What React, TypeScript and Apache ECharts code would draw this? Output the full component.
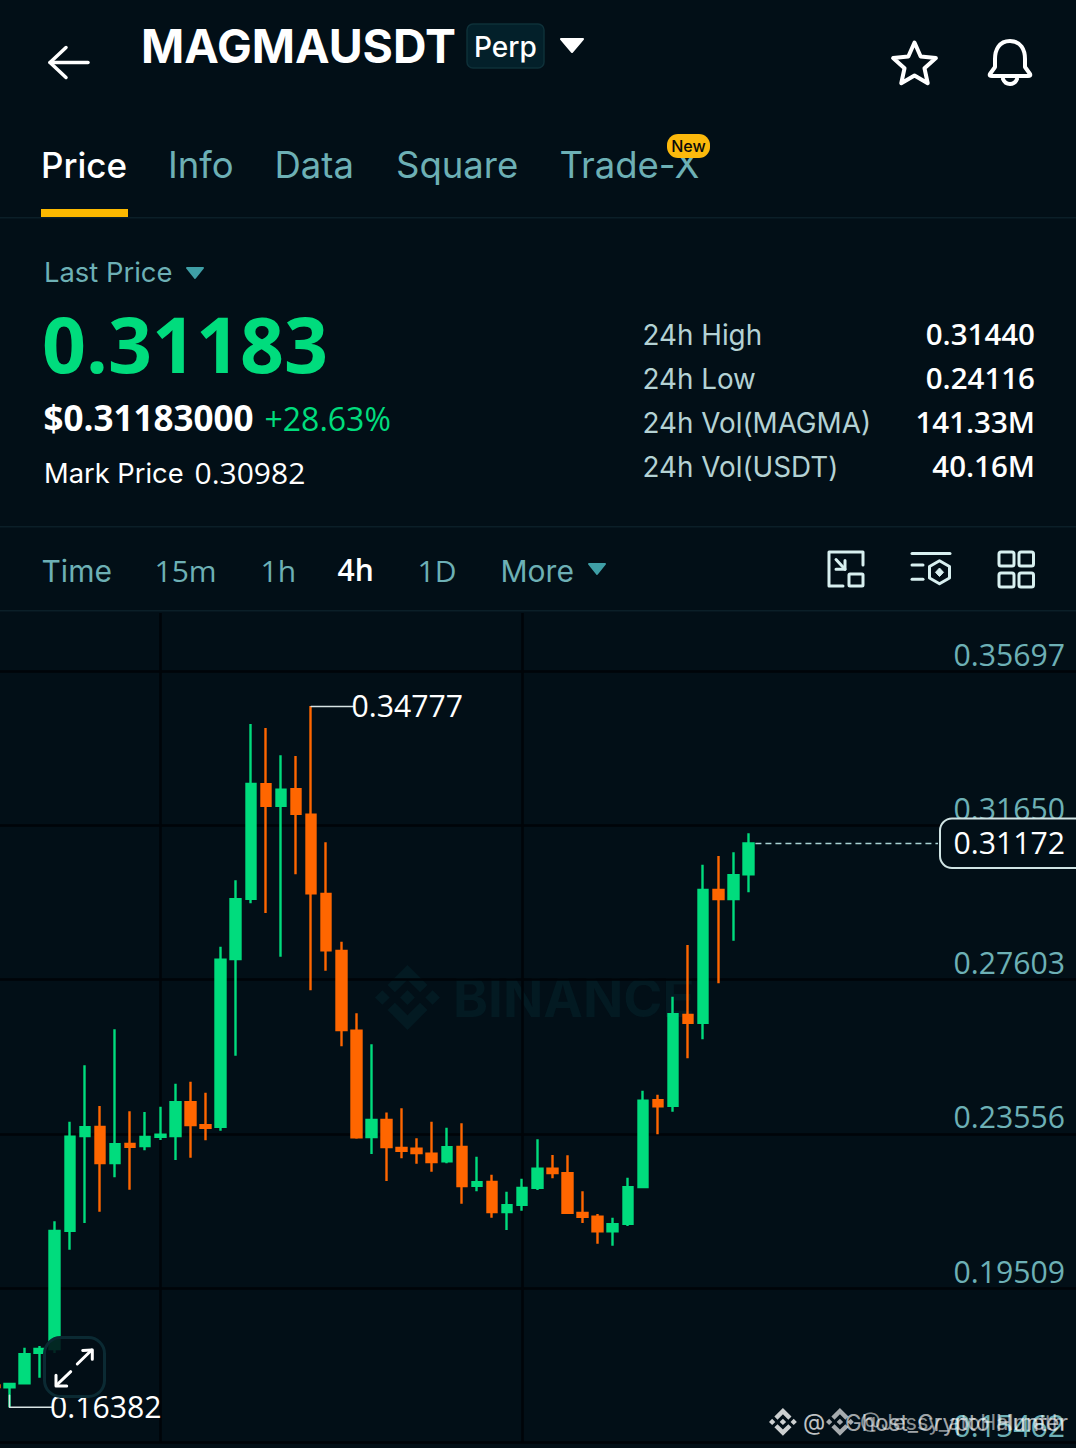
import React, { useEffect, useRef } from "react";
import * as echarts from "echarts";

const opens = [0.16951,0.16904,0.17009,0.17812,0.17909,0.21013,0.23497,0.23733,0.22789,0.23287,0.23235,0.23479,0.23497,0.24381,0.23778,0.23741,0.28141,0.29723,0.32724,0.32163,0.32593,0.31927,0.29846,0.28351,0.26260,0.23471,0.23917,0.23182,0.23164,0.23033,0.22833,0.23209,0.22193,0.22290,0.21503,0.21695,0.22141,0.22639,0.22519,0.21477,0.21380,0.20997,0.21196,0.22159,0.24434,0.24292,0.26672,0.26470,0.29951,0.29715,0.30363];
const closes = [0.16912,0.16991,0.17770,0.17909,0.21005,0.23479,0.23725,0.22789,0.23279,0.23216,0.23471,0.23531,0.24381,0.23786,0.23715,0.28123,0.29707,0.32732,0.32163,0.32583,0.31953,0.29865,0.28369,0.26278,0.23463,0.23917,0.23209,0.23111,0.23051,0.22815,0.23201,0.22185,0.22282,0.21503,0.21679,0.22133,0.22639,0.22527,0.21485,0.21380,0.20997,0.21181,0.22151,0.24423,0.24276,0.26690,0.26470,0.29951,0.29715,0.30337,0.31172];
const lows = [0.16912,0.16382,0.17009,0.17156,0.17804,0.20514,0.21215,0.21511,0.22414,0.22088,0.23122,0.23392,0.22868,0.22928,0.23384,0.23636,0.25604,0.29602,0.29348,0.28201,0.30363,0.27320,0.27834,0.25851,0.23426,0.23025,0.22317,0.22912,0.22771,0.22561,0.22781,0.21721,0.22046,0.21354,0.21031,0.21537,0.22081,0.22387,0.21485,0.21215,0.20672,0.20619,0.21136,0.22125,0.23542,0.24135,0.25536,0.26034,0.27503,0.28621,0.29891];
const highs = [0.16951,0.16991,0.17943,0.17988,0.21259,0.23872,0.25352,0.24284,0.26297,0.24145,0.24127,0.24266,0.24869,0.24922,0.24633,0.28464,0.30206,0.34306,0.34202,0.33485,0.33467,0.34777,0.31203,0.28595,0.26716,0.25903,0.24114,0.24224,0.23437,0.23872,0.23715,0.23830,0.22954,0.22482,0.22036,0.22377,0.23411,0.22999,0.22991,0.22046,0.21451,0.21354,0.22403,0.24686,0.24581,0.27152,0.28508,0.30615,0.30843,0.30940,0.31439];
const slotCount = 73;
const priceTicks = [0.15462, 0.19509, 0.23556, 0.27603, 0.3165, 0.35697];
const gridColumns = [11, 35];
const highIndex = 21, highValue = 0.34777;
const lowIndex = 1, lowValue = 0.16382;
const lastIndex = 50, lastValue = 0.31172;
const tabs = [["Info", 168], ["Data", 274.5], ["Square", 396], ["Trade-X", 559.5]] as const;
const wordPeriods = [["Time", 41.5], ["More", 500.5]] as const;
const numberPeriods = [["15m", 154.5], ["1h", 260.5], ["1D", 417.5]] as const;
const statLabels = ["24h High", "24h Low", "24h Vol(MAGMA)", "24h Vol(USDT)"];
const statValues = ["0.31440", "0.24116", "141.33M", "40.16M"];

const BG = "#020f17", GREEN = "#00dc7d", ORANGE = "#ff6600", TEAL = "#6db0b5", WHITE = "#ffffff", FONT = "Inter", NUM = "Open Sans";
const ICON = "#d8f0f0", LINE = "#0b1f28", GRIDLINE = "#000409";

echarts.graphic.registerShape("binanceLogo", echarts.graphic.extendPath(
  "M38.73 53.2l24.59-24.58 24.6 24.6 14.3-14.31L63.32 0l-38.9 38.9zM0 63.31l14.3-14.31 14.31 14.31-14.31 14.3zM38.73 73.41l24.59 24.59 24.6-24.6 14.31 14.29-38.9 38.91-38.91-38.88zM98 63.31l14.3-14.31 14.31 14.3-14.31 14.32zM77.83 63.3L63.32 48.78 52.59 59.51l-1.24 1.23-2.54 2.54 14.51 14.5 14.51-14.47z", {}) as any);
echarts.graphic.registerShape("bellIcon", echarts.graphic.extendPath(
  "M1010 41C999 41 995 50 995 59V67L990 74Q989 76 992 76H1028Q1031 76 1030 74L1025 67V59C1025 50 1021 41 1010 41ZM1003 79Q1005 84 1010 84Q1015 84 1017 79", {}) as any);

const txt = (text: string, x: number, y: number, size: number, fill: string, weight: any = 400, align = "left", z = 50, family = FONT) => ({
  type: "text", x, y, z, silent: true,
  style: { text, fontSize: size, fontFamily: family, fontWeight: weight, fill, align, verticalAlign: "middle" },
});
const pl = (points: number[][], stroke = ICON, lineWidth = 3, z = 50) => ({
  type: "polyline", z, silent: true, shape: { points },
  style: { stroke, lineWidth, fill: "none", lineCap: "round", lineJoin: "round" },
});
const poly = (points: number[][], fill: string, z = 50, stroke: string = fill, lineWidth = 2) => ({
  type: "polygon", z, silent: true, shape: { points },
  style: { fill, stroke, lineWidth, lineJoin: "round" },
});
const rc = (x: number, y: number, width: number, height: number, style: any, r = 0, z = 50) => ({
  type: "rect", z, silent: true, shape: { x, y, width, height, r }, style,
});
const logo = (x: number, y: number, s: number, fill: string, z = 60) => ({
  type: "binanceLogo", x, y, scaleX: s, scaleY: s, z, silent: true, style: { fill },
});

function starPoints(cx: number, cy: number, R: number, r: number) {
  const p: number[][] = [];
  for (let i = 0; i < 10; i++) {
    const a = -Math.PI / 2 + (i * Math.PI) / 5, q = i % 2 ? r : R;
    p.push([cx + q * Math.cos(a), cy + q * Math.sin(a)]);
  }
  return p;
}
function hexPoints(cx: number, cy: number, rx: number, ry: number) {
  return [[cx, cy - ry], [cx + rx, cy - ry / 2], [cx + rx, cy + ry / 2], [cx, cy + ry], [cx - rx, cy + ry / 2], [cx - rx, cy - ry / 2]];
}

function chrome(): any[] {
  return [
    // top bar
    pl([[50, 62.5], [88, 62.5]], WHITE, 3.5), pl([[66, 47.5], [50, 62.5], [66, 77.5]], WHITE, 3.5),
    txt("MAGMAUSDT", 141, 46, 46.4, WHITE, 700),
    rc(467, 24, 77, 44, { fill: "#03202a", stroke: "#0e3039", lineWidth: 1.5 }, 6),
    txt("Perp", 474, 47, 28, WHITE, 500),
    poly([[561, 39], [583, 39], [572, 52]], WHITE),
    poly(starPoints(914.5, 65, 22.5, 10.5), "none", 50, WHITE, 4),
    { type: "bellIcon", z: 50, silent: true, style: { fill: "none", stroke: WHITE, lineWidth: 4, lineJoin: "round", lineCap: "round" } },
    // tabs
    txt("Price", 41, 165, 35, WHITE, 500),
    ...tabs.map(([t, x]) => txt(t, x, 165, 36.5, TEAL, 400)),
    rc(0, 217, 1076, 1.5, { fill: LINE }),
    rc(41, 209, 87, 8, { fill: "#fcb900" }),
    rc(667, 134, 43, 24, { fill: "#fcb90c" }, 11, 55),
    txt("New", 688.5, 146, 16, "#0a0a0a", 500, "center", 56),
    // quote block
    txt("Last Price", 44, 272, 27.4, TEAL, 400),
    poly([[187, 268], [203, 268], [195, 278]], "#3f9fa6"),
    txt("0.31183", 42, 343, 77, GREEN, 700, "left", 50, NUM),
    txt("$0.31183000", 43.5, 417, 35, WHITE, 700, "left", 50, NUM),
    txt("+28.63%", 264.5, 418, 32, GREEN, 400, "left", 50, NUM),
    txt("Mark Price", 44, 473, 27.3, WHITE, 400),
    txt("0.30982", 194.5, 472, 30, WHITE, 400, "left", 50, NUM),
    ...statLabels.map((t, i) => txt(t, 642.5, 335 + i * 44, 27.8, "#b4d2d4", 400)),
    ...statValues.map((t, i) => txt(t, 1035, 333.5 + i * 44, 29.5, WHITE, 600, "right", 50, NUM)),
    rc(0, 526, 1076, 1.5, { fill: LINE }),
    // period bar
    ...wordPeriods.map(([t, x]) => txt(t, x, 570.5, 30, TEAL, 400)),
    ...numberPeriods.map(([t, x]) => txt(t, x, 570, 30, TEAL, 400, "left", 50, NUM)),
    txt("4h", 337.5, 569, 30, WHITE, 600, "left", 50, NUM),
    poly([[589, 564], [605, 564], [597, 574]], "#3f9fa6"),
    rc(0, 610, 1076, 1.5, { fill: LINE }),
    // icons
    pl([[863, 565], [863, 552], [829, 552], [829, 586], [843, 586]]),
    rc(849, 574, 14, 12, { fill: "none", stroke: ICON, lineWidth: 3 }, 1),
    pl([[836, 559.5], [845, 569.3]]), pl([[845, 560.5], [845, 569.3], [836, 569.3]]),
    pl([[912, 553.5], [950, 553.5]]), pl([[912, 565], [923, 565]]), pl([[912, 579.3], [923, 579.3]]),
    poly(hexPoints(939.5, 572.3, 10, 11.5), "none", 50, ICON, 3),
    poly([[939.5, 568], [943.5, 572.3], [939.5, 576.5], [935.5, 572.3]], ICON, 50, ICON, 1),
    rc(999, 552, 15, 14, { fill: "none", stroke: ICON, lineWidth: 3 }, 2),
    rc(1019, 552, 14.5, 14, { fill: "none", stroke: ICON, lineWidth: 3 }, 2),
    rc(999, 573, 15, 14, { fill: "none", stroke: ICON, lineWidth: 3 }, 2),
    rc(1019, 573, 14.5, 14, { fill: "none", stroke: ICON, lineWidth: 3 }, 2),
    // chart watermark, behind the grid and the candles
    logo(375, 965, 0.513, "#031a22", -1),
    txt("BINANCE", 453, 998, 53, "#031a22", 700, "left", -1),
    // expand button
    rc(44.5, 1337.5, 60, 59, { fill: "rgba(2,15,23,0.88)", stroke: "#0b2a33", lineWidth: 3 }, 16, 70),
    pl([[77.3, 1364], [91.7, 1350]], WHITE, 3, 71), pl([[82.7, 1350.5], [92.3, 1350], [92.3, 1359.3]], WHITE, 3, 71),
    pl([[70.7, 1371.7], [56.7, 1385]], WHITE, 3, 71), pl([[56, 1375.3], [56, 1386], [66.7, 1386]], WHITE, 3, 71),
    // footer marks
    logo(769, 1408, 0.22, "rgba(255,255,255,0.8)"),
    txt("@", 803, 1422, 23, "rgba(255,255,255,0.75)", 400, "left", 60),
    logo(826, 1408, 0.22, "rgba(255,255,255,0.65)"),
    txt("Ghost_Crypto Hunter", 845, 1422, 22.5, "rgba(255,255,255,0.65)", 400, "left", 60),
    txt("@Jessy_atoHalmeth", 860, 1422, 21.5, "rgba(255,255,255,0.55)", 400, "left", 60),
  ];
}

export default function App() {
  const ref = useRef<HTMLDivElement>(null);
  useEffect(() => {
    document.body.style.margin = "0";
    document.body.style.background = BG;
    const chart = echarts.init(ref.current!, undefined, { renderer: "svg" });
    const categories = Array.from({ length: slotCount }, (_, i) => String(i));
    const base: any = {
      animation: false,
      backgroundColor: BG,
      grid: { left: -13.12, right: -11.72, top: 613, bottom: 5.75, containLabel: false, outerBoundsMode: "none" },
      xAxis: {
        type: "category", data: categories, boundaryGap: true,
        axisLine: { show: false }, axisLabel: { show: false },
        axisTick: { show: false, alignWithLabel: true, interval: 0 },
        splitLine: { show: true, alignWithLabel: true, interval: (i: number) => gridColumns.includes(i), lineStyle: { color: GRIDLINE, width: 2.5 } },
      },
      yAxis: {
        type: "value", position: "right", min: 0.15462, max: 0.37219, scale: true,
        axisLine: { show: false },
        axisTick: { show: false, customValues: priceTicks },
        axisLabel: {
          inside: true, margin: 22.7, customValues: priceTicks, color: TEAL, fontSize: 30.2, fontFamily: NUM,
          verticalAlign: "bottom", lineHeight: 34, formatter: (v: number) => v.toFixed(5),
        },
        splitLine: { show: true, lineStyle: { color: GRIDLINE, width: 2.5 } },
      },
      series: [{
        type: "candlestick", barWidth: 10, clip: true,
        data: opens.map((o, i) => [o, closes[i], lows[i], highs[i]]),
        itemStyle: { color: GREEN, color0: ORANGE, borderColor: GREEN, borderColor0: ORANGE, borderWidth: 2.4 },
      }],
      graphic: { elements: chrome() },
    };
    chart.setOption(base);
    const [hx, hy] = chart.convertToPixel({ gridIndex: 0 }, [highIndex, highValue]) as number[];
    const [lx, ly] = chart.convertToPixel({ gridIndex: 0 }, [lowIndex, lowValue]) as number[];
    const [px, py] = chart.convertToPixel({ gridIndex: 0 }, [lastIndex, lastValue]) as number[];
    chart.setOption({
      graphic: {
        elements: [
          ...chrome(),
          pl([[hx, hy + 0.5], [hx + 42, hy + 0.5]], "#d8e4e4", 1.5, 40),
          txt(highValue.toFixed(5), hx + 40.5, hy - 0.5, 30.2, WHITE, 400, "left", 41, NUM),
          pl([[lx, ly - 12], [lx, ly], [lx + 42, ly]], "#d8e4e4", 1.5, 40),
          txt(lowValue.toFixed(5), lx + 40.5, ly - 0.5, 30.2, WHITE, 400, "left", 41, NUM),
          { type: "line", z: 40, silent: true, shape: { x1: px + 7, y1: py, x2: 938, y2: py }, style: { stroke: "#a8d2d4", lineWidth: 1.5, lineDash: [6, 4] } },
          rc(940, py - 25, 150, 49.5, { fill: BG, stroke: "#d0e4e4", lineWidth: 2 }, 12, 45),
          txt(lastValue.toFixed(5), 1065, py - 1, 30.2, WHITE, 400, "right", 46, NUM),
        ],
      },
    }, { replaceMerge: ["graphic"] });
    return () => chart.dispose();
  }, []);
  return <div ref={ref} style={{ position: "fixed", left: 0, top: 0, width: 1076, height: 1448 }} />;
}
